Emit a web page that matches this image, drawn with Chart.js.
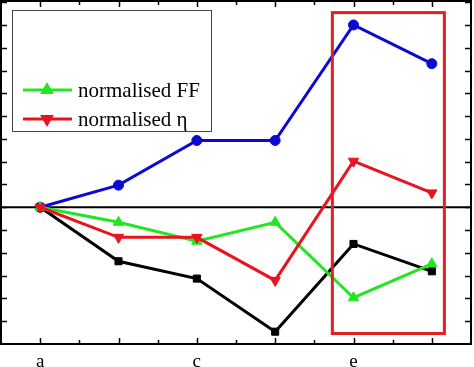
<!DOCTYPE html>
<html>
<head>
<meta charset="utf-8">
<script src="https://cdn.jsdelivr.net/npm/chart.js@4.4.1/dist/chart.umd.min.js"></script>
<style>
  html, body { margin: 0; padding: 0; background: #fff; }
  #wrap { width: 474px; height: 367px; }
</style>
</head>
<body>
<div id="wrap"><canvas id="c"></canvas></div>
<script>
// ── DATA ─────────────────────────────────────────────
var categories = ['a', 'b', 'c', 'd', 'e', 'f'];
var shownLabels = ['a', 'c', 'e'];
var blueVals  = [0, 0.97, 2.93, 2.93, 8.0, 6.3];
var blackVals = [0, -2.37, -3.13, -5.46, -1.61, -2.81];
var greenVals = [0, -0.66, -1.49, -0.66, -3.97, -2.48];
var redVals   = [0, -1.32, -1.32, -3.21, 2.02, 0.63];
var legendNames = ['normalised FF', 'normalised \u03b7'];
// highlighted region (category index / value units)
var boxX = [3.73, 5.16];
var boxY = [-5.54, 8.54];

function pts(vals) {
  return vals.map(function (v, i) { return { x: i, y: v }; });
}

var serif = "'Liberation Serif','Times New Roman',serif";

// ── FRAME, TICKS, ZERO LINE, BOX, LEGEND ─────────────
var decor = {
  id: 'decor',
  beforeDatasetsDraw: function (chart) {
    var ctx = chart.ctx, a = chart.chartArea;
    var y = chart.scales.y;
    var y0 = y.getPixelForValue(0);
    ctx.save();
    ctx.strokeStyle = '#000';
    ctx.lineWidth = 2;
    ctx.beginPath();
    ctx.moveTo(a.left, y0); ctx.lineTo(a.right, y0);
    ctx.stroke();
    ctx.restore();
  },
  afterDatasetsDraw: function (chart) {
    var ctx = chart.ctx, a = chart.chartArea;
    var x = chart.scales.x, y = chart.scales.y;
    ctx.save();
    // red highlight box
    ctx.strokeStyle = '#e31e24';
    ctx.lineWidth = 3;
    var bl = x.getPixelForValue(boxX[0]), br = x.getPixelForValue(boxX[1]);
    var bt = y.getPixelForValue(boxY[1]), bb = y.getPixelForValue(boxY[0]);
    ctx.strokeRect(bl, bt, br - bl, bb - bt);

    // frame
    ctx.strokeStyle = '#000';
    ctx.lineWidth = 2;
    ctx.strokeRect(a.left, a.top, a.right - a.left, a.bottom - a.top);

    // x ticks (inward, top & bottom)
    ctx.lineWidth = 1.5;
    for (var v = 0; v <= categories.length - 1; v += 0.5) {
      var px = Math.round(x.getPixelForValue(v)) + 0.5;
      var len = (v % 1 === 0) ? 6 : 4;
      ctx.beginPath();
      ctx.moveTo(px, a.bottom); ctx.lineTo(px, a.bottom - len);
      ctx.moveTo(px, a.top); ctx.lineTo(px, a.top + len);
      ctx.stroke();
    }
    // y ticks (inward, left & right)
    for (var t = Math.ceil(y.min) + 1; t < y.max; t++) {
      var py = Math.round(y.getPixelForValue(t)) + 0.5;
      ctx.beginPath();
      ctx.moveTo(a.left, py); ctx.lineTo(a.left + 6, py);
      ctx.moveTo(a.right, py); ctx.lineTo(a.right - 6, py);
      ctx.stroke();
    }

    // legend box
    var lx = 12, ly = 10, lw = 199, lh = 121;
    ctx.fillStyle = '#fff';
    ctx.fillRect(lx, ly, lw, lh);
    ctx.strokeStyle = '#444';
    ctx.lineWidth = 1;
    ctx.strokeRect(lx + 0.5, ly + 0.5, lw, lh);
    var items = [
      { ds: chart.data.datasets[2], yy: 90, name: legendNames[0] },
      { ds: chart.data.datasets[3], yy: 119, name: legendNames[1] }
    ];
    items.forEach(function (it) {
      ctx.strokeStyle = it.ds.borderColor;
      ctx.fillStyle = it.ds.borderColor;
      ctx.lineWidth = 3;
      ctx.beginPath();
      ctx.moveTo(23, it.yy); ctx.lineTo(72, it.yy);
      ctx.stroke();
      Chart.helpers.drawPoint(ctx, {
        pointStyle: 'triangle', radius: 5,
        rotation: it.ds.pointRotation || 0, borderWidth: 1
      }, 47, it.yy);
      ctx.fillStyle = '#000';
      ctx.font = '21px ' + serif;
      ctx.textBaseline = 'middle';
      ctx.fillText(it.name, 78, it.yy + 1);
    });
    ctx.restore();
  }
};

function ds(vals, color, style, rot, radius, order) {
  return {
    data: pts(vals),
    borderColor: color,
    backgroundColor: color,
    borderWidth: 3,
    pointStyle: style,
    pointRotation: rot,
    pointRadius: radius,
    pointBorderWidth: 1,
    order: order,
    tension: 0
  };
}

new Chart(document.getElementById('c'), {
  type: 'line',
  data: {
    datasets: [
      ds(blueVals,  '#0a0ad2', 'circle',   0,   5, 4),
      ds(blackVals, '#000000', 'rect',     0,   5, 3),
      ds(greenVals, '#22e622', 'triangle', 0,   6, 2),
      ds(redVals,   '#e8141e', 'triangle', 180, 6, 1)
    ]
  },
  options: {
    responsive: true,
    maintainAspectRatio: false,
    animation: false,
    layout: { autoPadding: false, padding: { left: 1, right: 3, top: 1, bottom: 0 } },
    plugins: { legend: { display: false }, tooltip: { enabled: false } },
    scales: {
      x: {
        type: 'linear',
        min: -0.5, max: 5.5,
        grid: { display: false, tickLength: 0 },
        border: { display: false },
        afterBuildTicks: function (scale) {
          scale.ticks = categories.map(function (c, i) { return { value: i }; });
        },
        afterFit: function (scale) {
          scale.height = 23;
          scale.paddingLeft = 0;
          scale.paddingRight = 0;
        },
        ticks: {
          autoSkip: false,
          maxRotation: 0,
          padding: 7,
          color: '#000',
          font: { family: serif, size: 19 },
          callback: function (v) {
            var c = categories[v];
            return shownLabels.indexOf(c) >= 0 ? c : '';
          }
        }
      },
      y: {
        display: false,
        min: -6, max: 9.05
      }
    }
  },
  plugins: [decor]
});
</script>
</body>
</html>
